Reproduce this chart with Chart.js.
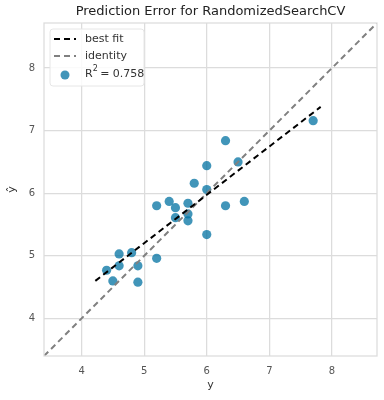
<!DOCTYPE html>
<html>
<head>
<meta charset="utf-8">
<script src="https://cdn.jsdelivr.net/npm/chart.js@4"></script>
<style>
  html, body { margin: 0; padding: 0; background: #fff; }
  #wrap { width: 384px; height: 400px; }
</style>
</head>
<body>
<div id="wrap"><canvas id="myChart"></canvas></div>
<script>
// valores
const actualY = [4.4, 4.5, 4.6, 4.6, 4.8, 4.9, 4.9, 5.2, 5.2, 5.4, 5.5, 5.5, 5.7, 5.7, 5.7, 5.8, 6.0, 6.0, 6.0, 6.3, 6.3, 6.5, 6.6, 7.7];
const predictedY = [4.77, 4.60, 5.03, 4.84, 5.05, 4.84, 4.58, 4.96, 5.80, 5.87, 5.77, 5.61, 5.84, 5.67, 5.56, 6.16, 6.44, 6.06, 5.34, 6.84, 5.80, 6.50, 5.87, 7.16];
const bestFitX = [4.22, 7.82];
const bestFitY = [4.60, 7.38];
const identityXY = [3.4, 8.72];
const tickValues = [4, 5, 6, 7, 8];
const r2 = '0.758';
const chartTitle = 'Prediction Error for RandomizedSearchCV';

const pointColor = 'rgba(2, 114, 162, 0.75)';
const gridColor = '#dcdcdc';
const font = 'DejaVu Sans';

var ctx = document.getElementById('myChart').getContext('2d');

const scatterData = actualY.map((x, i) => ({ x: x, y: predictedY[i] }));

// titulo centrado sobre el area, marco completo y leyenda dentro
const framePlugin = {
    id: 'frameAndLegend',
    afterDraw(chart) {
        const a = chart.chartArea;
        const c = chart.ctx;
        c.save();
        c.strokeStyle = gridColor;
        c.lineWidth = 1.25;
        c.strokeRect(a.left, a.top, a.right - a.left, a.bottom - a.top);

        c.fillStyle = '#222';
        c.font = '13px "' + font + '"';
        c.textAlign = 'center';
        c.textBaseline = 'middle';
        c.fillText(chartTitle, (a.left + a.right) / 2, 12);
        c.textAlign = 'left';

        // leyenda
        const bx = a.left + 6, by = a.top + 6, bw = 94, bh = 57;
        c.fillStyle = 'rgba(255,255,255,0.85)';
        c.strokeStyle = '#e6e6e6';
        c.lineWidth = 1;
        c.beginPath();
        c.roundRect(bx, by, bw, bh, 3);
        c.fill();
        c.stroke();

        c.lineWidth = 2;
        c.setLineDash([6, 4]);
        c.strokeStyle = '#000';
        c.beginPath(); c.moveTo(bx + 4, by + 10); c.lineTo(bx + 26, by + 10); c.stroke();
        c.strokeStyle = '#808080';
        c.beginPath(); c.moveTo(bx + 4, by + 27); c.lineTo(bx + 26, by + 27); c.stroke();
        c.setLineDash([]);
        c.fillStyle = pointColor;
        c.beginPath(); c.arc(bx + 15, by + 46, 4.5, 0, Math.PI * 2); c.fill();

        c.fillStyle = '#333';
        c.font = '11px "' + font + '"';
        c.fillText('best fit', bx + 35, by + 10);
        c.fillText('identity', bx + 35, by + 27);
        c.fillText('R', bx + 35, by + 45);
        const rw = c.measureText('R').width;
        c.font = '8px "' + font + '"';
        c.fillText('2', bx + 35 + rw, by + 40);
        c.font = '11px "' + font + '"';
        c.fillText(' = ' + r2, bx + 35 + rw + 4, by + 45);
        c.restore();
    }
};

const config = {
    type: 'scatter',
    data: {
        datasets: [
            {
                label: 'R2',
                data: scatterData,
                backgroundColor: pointColor,
                borderWidth: 0,
                pointRadius: 4.6,
                order: 3
            },
            {
                label: 'best fit',
                type: 'line',
                data: bestFitX.map((x, i) => ({ x: x, y: bestFitY[i] })),
                borderColor: '#000',
                borderWidth: 2,
                borderDash: [6, 4],
                pointRadius: 0,
                fill: false,
                order: 1
            },
            {
                label: 'identity',
                type: 'line',
                data: identityXY.map(v => ({ x: v, y: v })),
                borderColor: '#808080',
                borderWidth: 2,
                borderDash: [6, 4],
                pointRadius: 0,
                fill: false,
                order: 2
            }
        ]
    },
    options: {
        responsive: true,
        maintainAspectRatio: false,
        animation: false,
        layout: { padding: { left: 0, right: 7, top: 23, bottom: 0 } },
        plugins: {
            legend: { display: false },
            tooltip: { enabled: false },
            title: { display: false }
        },
        scales: {
            x: {
                type: 'linear',
                min: identityXY[0],
                max: identityXY[1],
                afterBuildTicks: s => { s.ticks = tickValues.map(v => ({ value: v })); },
                afterFit: s => { s.height = 44; },
                grid: { color: gridColor, lineWidth: 1.25, drawTicks: false },
                border: { display: false },
                ticks: { color: '#555', font: { family: font, size: 10 }, padding: 9 },
                title: { display: true, text: 'y', color: '#333', font: { family: font, size: 11 }, padding: { top: 0, bottom: 8 } }
            },
            y: {
                type: 'linear',
                min: identityXY[0],
                max: identityXY[1],
                afterBuildTicks: s => { s.ticks = tickValues.map(v => ({ value: v })); },
                afterFit: s => { s.width = 44; },
                grid: { color: gridColor, lineWidth: 1.25, drawTicks: false },
                border: { display: false },
                ticks: { color: '#555', font: { family: font, size: 10 }, padding: 9 },
                title: { display: true, text: 'ŷ', color: '#333', font: { family: font, size: 11 }, padding: { top: 6, bottom: 0 } }
            }
        }
    },
    plugins: [framePlugin]
};

new Chart(ctx, config);
</script>
</body>
</html>
